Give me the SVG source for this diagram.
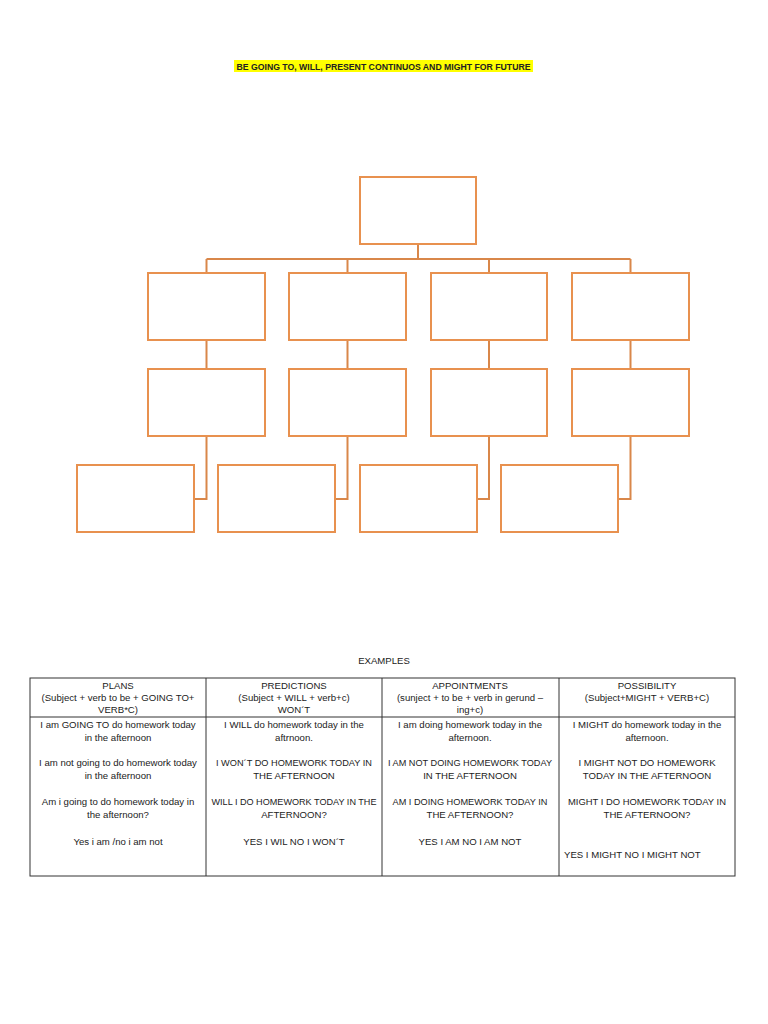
<svg xmlns="http://www.w3.org/2000/svg" width="768" height="1024" viewBox="0 0 768 1024">
<style>
.box{fill:#fff;stroke:#E8914F;stroke-width:2}
.con{fill:none;stroke:#D9874A;stroke-width:2}
.t{font-family:"Liberation Sans",Arial,sans-serif;font-size:9.6px;fill:#222;text-anchor:middle}
.tl{font-family:"Liberation Sans",Arial,sans-serif;font-size:9.6px;fill:#222}
.grid{fill:none;stroke:#333;stroke-width:1}
</style>
<rect width="768" height="1024" fill="#fff"/>
<rect x="234" y="60" width="299" height="12" fill="#FFFF00"/>
<text x="383.5" y="69.5" class="t" style="font-weight:bold;font-size:8.4px" textLength="294" lengthAdjust="spacingAndGlyphs">BE GOING TO, WILL, PRESENT CONTINUOS AND MIGHT FOR FUTURE</text>
<g id="connectors">
<path class="con" d="M418 244V259M206.5 259H630.5M206.5 259V273M347.5 259V273M489 259V273M630.5 259V273"/>
<path class="con" d="M206.5 340V369M347.5 340V369M489 340V369M630.5 340V369"/>
<path class="con" d="M206.5 436V499H194M347.5 436V499H335M489 436V499H477M630.5 436V499H618"/>
</g>
<g id="root"><rect class="box" x="360" y="177" width="116" height="67"/></g>
<g id="n1a"><rect class="box" x="148" y="273" width="117" height="67"/></g>
<g id="n1b"><rect class="box" x="289" y="273" width="117" height="67"/></g>
<g id="n1c"><rect class="box" x="431" y="273" width="116" height="67"/></g>
<g id="n1d"><rect class="box" x="572" y="273" width="117" height="67"/></g>
<g id="n2a"><rect class="box" x="148" y="369" width="117" height="67"/></g>
<g id="n2b"><rect class="box" x="289" y="369" width="117" height="67"/></g>
<g id="n2c"><rect class="box" x="431" y="369" width="116" height="67"/></g>
<g id="n2d"><rect class="box" x="572" y="369" width="117" height="67"/></g>
<g id="n3a"><rect class="box" x="77" y="465" width="117" height="67"/></g>
<g id="n3b"><rect class="box" x="218" y="465" width="117" height="67"/></g>
<g id="n3c"><rect class="box" x="360" y="465" width="117" height="67"/></g>
<g id="n3d"><rect class="box" x="501" y="465" width="117" height="67"/></g>
<text x="384" y="664" class="t">EXAMPLES</text>
<g id="table">
<rect class="grid" x="30" y="678" width="705" height="198"/>
<path class="grid" d="M30 717H735M206 678V876M382 678V876M559 678V876"/>
</g>
<g id="col1">
<text class="t" x="118" y="689">PLANS</text>
<text class="t" x="118" y="701">(Subject + verb to be + GOING TO+</text>
<text class="t" x="118" y="713">VERB*C)</text>
<text class="t" x="118" y="728">I am GOING TO do homework today</text>
<text class="t" x="118" y="741">in the afternoon</text>
<text class="t" x="118" y="766">I am not going to do homework today</text>
<text class="t" x="118" y="779">in the afternoon</text>
<text class="t" x="118" y="805">Am i going to do homework today in</text>
<text class="t" x="118" y="818">the afternoon?</text>
<text class="t" x="118" y="845">Yes i am /no i am not</text>
</g>
<g id="col2">
<text class="t" x="294" y="689">PREDICTIONS</text>
<text class="t" x="294" y="701">(Subject + WILL + verb+c)</text>
<text class="t" x="294" y="713">WON´T</text>
<text class="t" x="294" y="728">I WILL  do homework today in the</text>
<text class="t" x="294" y="741">aftrnoon.</text>
<text class="t" x="294" y="766" textLength="156" lengthAdjust="spacingAndGlyphs">I WON´T DO HOMEWORK TODAY IN</text>
<text class="t" x="294" y="779">THE AFTERNOON</text>
<text class="t" x="294" y="805" textLength="165" lengthAdjust="spacingAndGlyphs">WILL I DO HOMEWORK TODAY IN THE</text>
<text class="t" x="294" y="818">AFTERNOON?</text>
<text class="t" x="294" y="845">YES I WIL  NO I WON´T</text>
</g>
<g id="col3">
<text class="t" x="470" y="689">APPOINTMENTS</text>
<text class="t" x="470" y="701">(sunject + to be + verb in gerund –</text>
<text class="t" x="470" y="713">ing+c)</text>
<text class="t" x="470" y="728">I am doing homework today in the</text>
<text class="t" x="470" y="741">afternoon.</text>
<text class="t" x="470" y="766" textLength="164" lengthAdjust="spacingAndGlyphs">I AM NOT DOING HOMEWORK TODAY</text>
<text class="t" x="470" y="779">IN THE AFTERNOON</text>
<text class="t" x="470" y="805" textLength="155" lengthAdjust="spacingAndGlyphs">AM I DOING HOMEWORK TODAY IN</text>
<text class="t" x="470" y="818">THE AFTERNOON?</text>
<text class="t" x="470" y="845">YES I AM NO I AM NOT</text>
</g>
<g id="col4">
<text class="t" x="647" y="689">POSSIBILITY</text>
<text class="t" x="647" y="701">(Subject+MIGHT + VERB+C)</text>
<text class="t" x="647" y="728">I MIGHT  do homework today in the</text>
<text class="t" x="647" y="741">afternoon.</text>
<text class="t" x="647" y="766">I MIGHT NOT  DO HOMEWORK</text>
<text class="t" x="647" y="779">TODAY IN THE AFTERNOON</text>
<text class="t" x="647" y="805" textLength="158" lengthAdjust="spacingAndGlyphs">MIGHT I  DO HOMEWORK TODAY IN</text>
<text class="t" x="647" y="818">THE AFTERNOON?</text>
<text class="tl" x="564" y="858">YES I MIGHT NO I MIGHT NOT</text>
</g>
</svg>
